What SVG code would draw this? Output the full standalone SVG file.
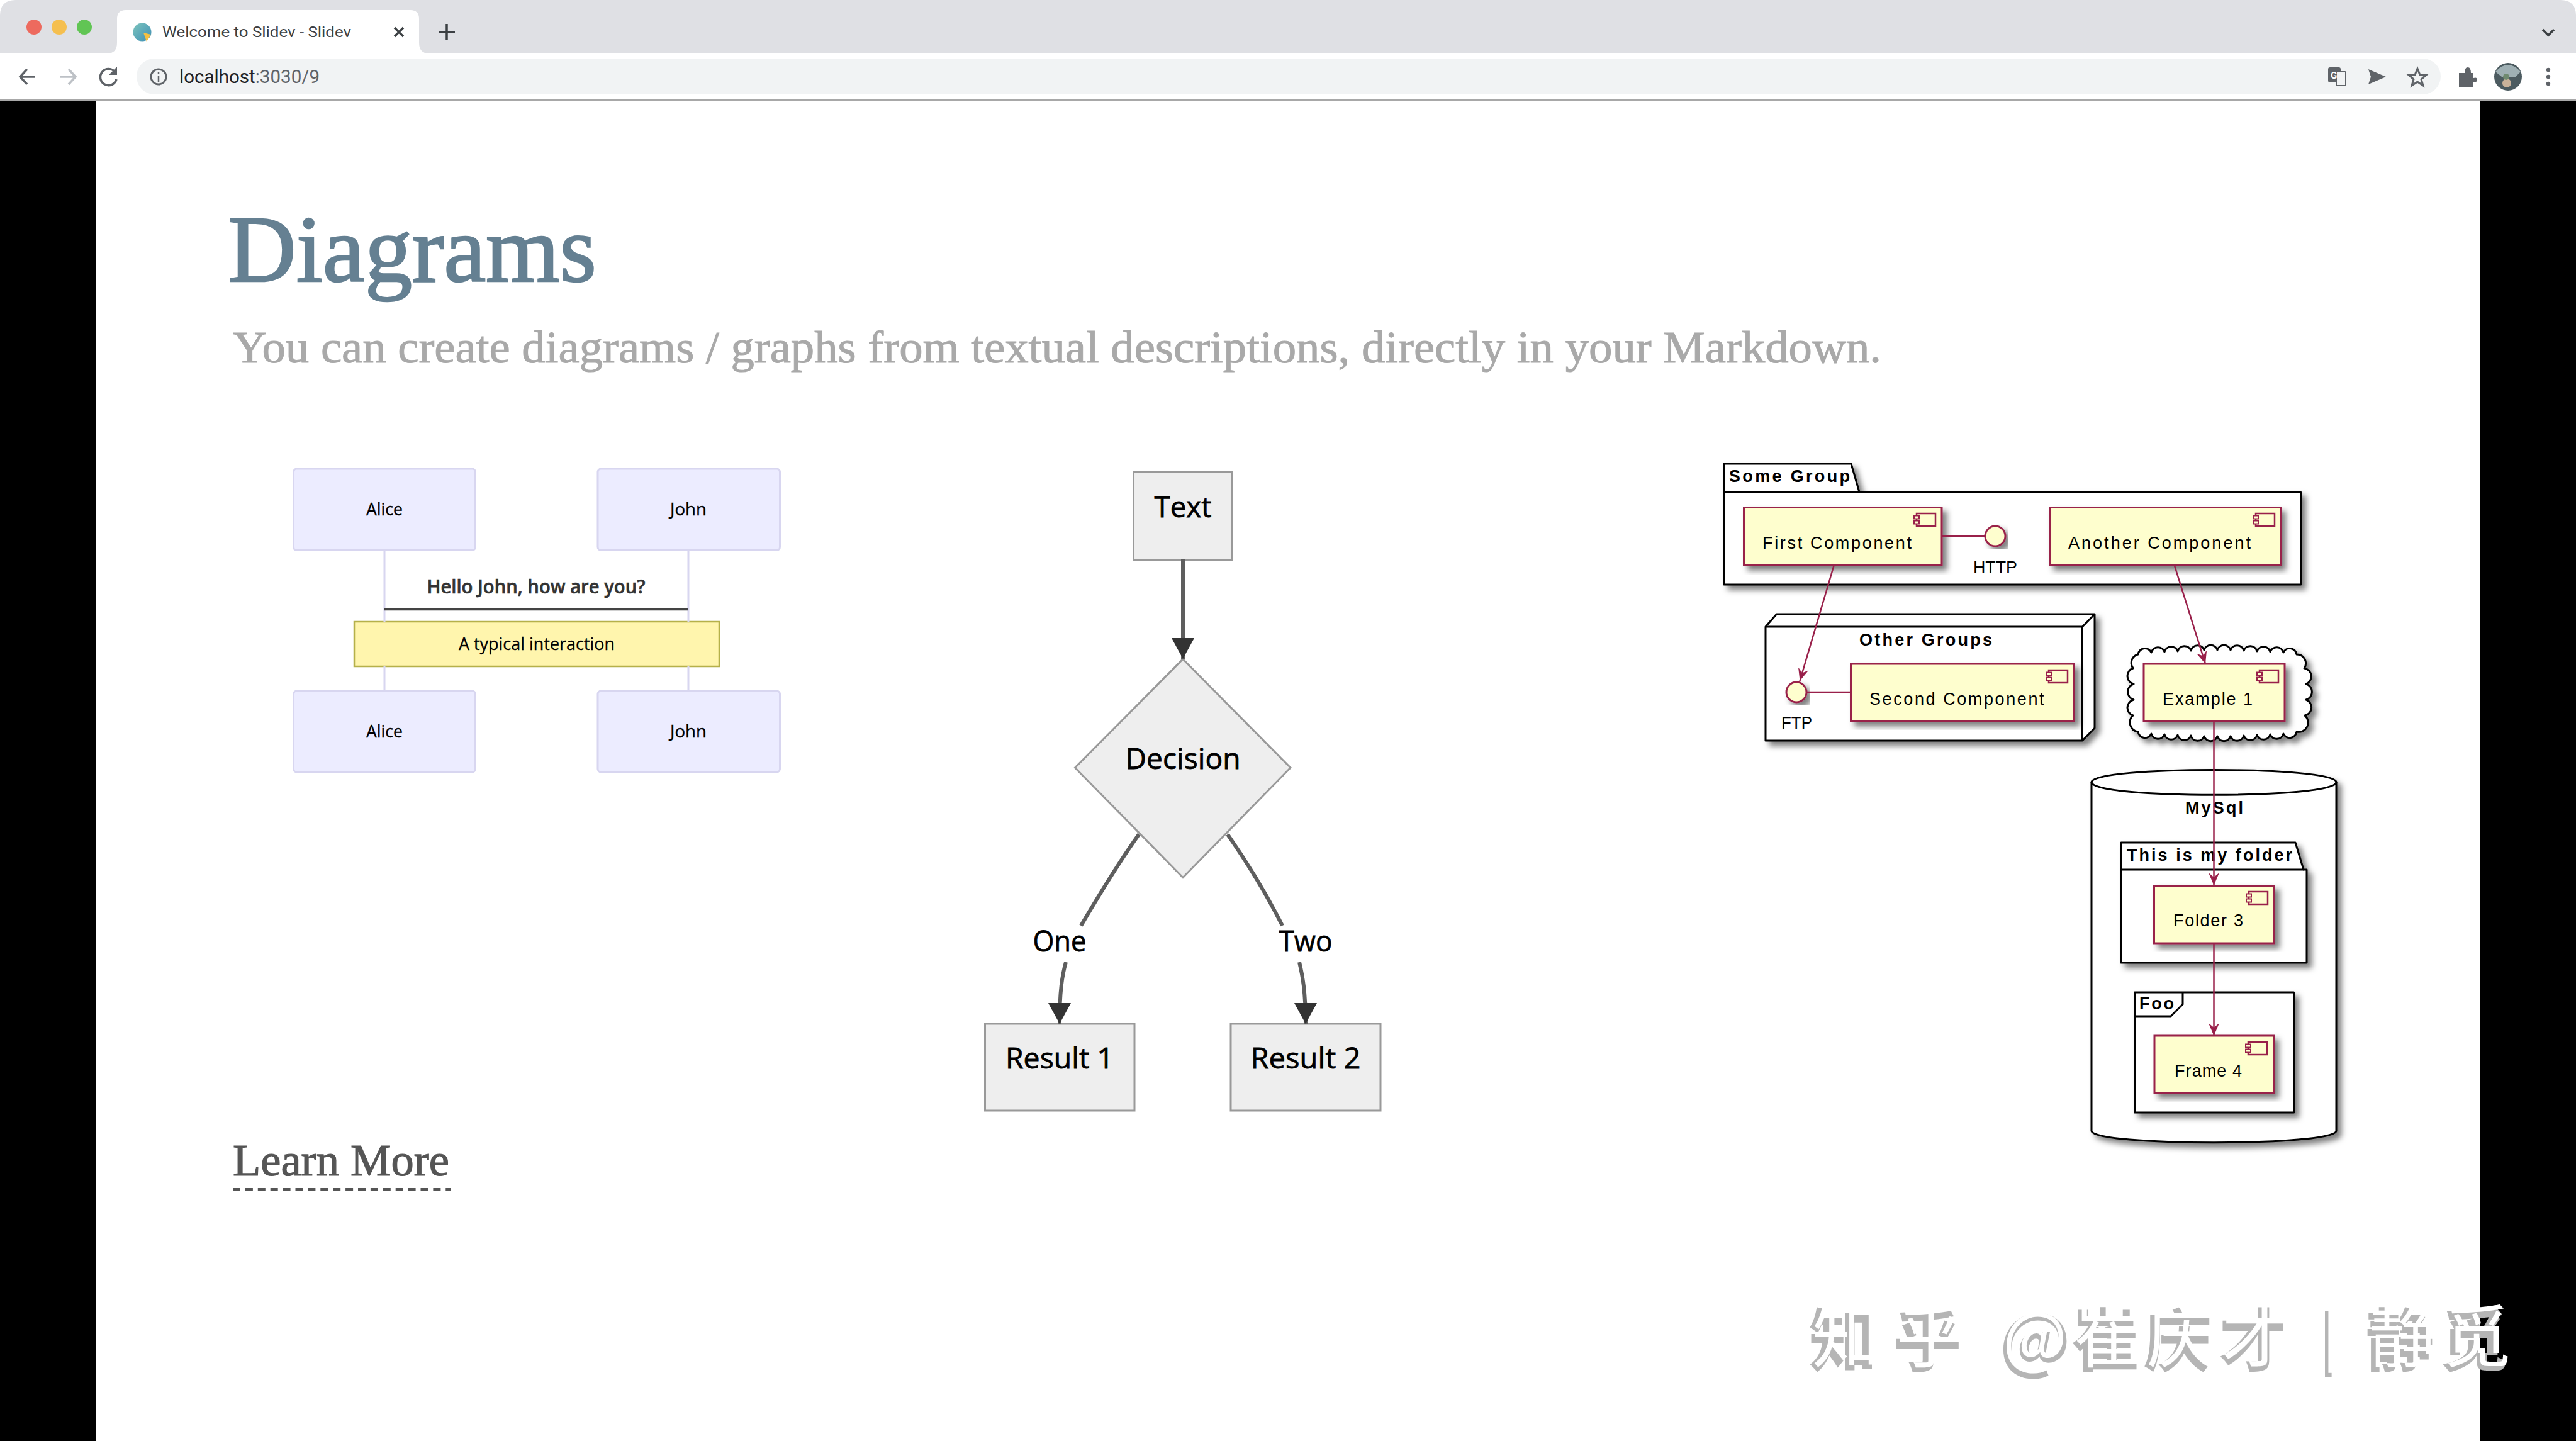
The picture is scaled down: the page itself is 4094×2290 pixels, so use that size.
<svg xmlns="http://www.w3.org/2000/svg" width="4094" height="2290" viewBox="0 0 4094 2290">
<style>
.seq{fill:#ececff;stroke:#d8d6f0;stroke-width:3}
.st{font-family:"Open Sans","Liberation Sans",sans-serif;font-size:27px;fill:#000;text-anchor:middle;stroke:#000;stroke-width:.3}
.fb{fill:#eee;stroke:#999;stroke-width:3}
.ft{font-family:"Open Sans","Liberation Sans",sans-serif;font-size:46px;fill:#000;text-anchor:middle;stroke:#000;stroke-width:.8}
.pk{fill:#fff;stroke:#000;stroke-width:3;stroke-linejoin:round}
.pk2{fill:none;stroke:#000;stroke-width:3}
.cp{fill:#fefece;stroke:#99204a;stroke-width:3}
.ct{font-family:"Liberation Sans",Arial,sans-serif;font-size:27px;fill:#000}
.gt{font-family:"Liberation Sans",Arial,sans-serif;font-size:27px;font-weight:bold;fill:#000}
.e{fill:none;stroke:#99204a;stroke-width:2.5}
.fe{fill:none;stroke:#5e5e5e;stroke-width:6}
.ll{fill:none;stroke:#d8d6f0;stroke-width:3}
.ic{fill:none;stroke:#5f6368;stroke-width:3.5}
.wm{font-family:"Noto Sans CJK SC","Liberation Sans",sans-serif;font-size:108px}
</style>
<defs>
<filter id="sh" x="-10%" y="-10%" width="125%" height="125%"><feDropShadow dx="7" dy="7" stdDeviation="5" flood-color="#000" flood-opacity="0.5"/></filter>
<linearGradient id="fav" x1="0" y1="0" x2="1" y2="1"><stop offset="0" stop-color="#7cc4bd"/><stop offset="1" stop-color="#3f8fb5"/></linearGradient>
<g id="ci"><rect x="4" y="0" width="30" height="20" fill="#fefece" stroke="#99204a" stroke-width="2.5"/><rect x="0" y="3.5" width="8" height="5" fill="#fefece" stroke="#99204a" stroke-width="2"/><rect x="0" y="11.5" width="8" height="5" fill="#fefece" stroke="#99204a" stroke-width="2"/></g>
<marker id="oa" markerUnits="userSpaceOnUse" markerWidth="24" markerHeight="24" refX="20" refY="10" orient="auto" viewBox="0 0 24 20"><path d="M20,10 L0,1.5 L7,10 L0,18.5 Z" fill="#99204a"/></marker>
<marker id="fa" markerUnits="userSpaceOnUse" markerWidth="36" markerHeight="36" refX="33" refY="18" orient="auto" viewBox="0 0 36 36"><path d="M33,18 L0,0 L0,36 Z" fill="#333"/></marker>
</defs>

<rect width="4094" height="2290" fill="#fff"/>
<rect x="0" y="160" width="153" height="2130" fill="#000"/>
<rect x="3942" y="160" width="152" height="2130" fill="#000"/>

<g id="browser-chrome">
<path d="M0,90 V25 Q0,0 25,0 H4069 Q4094,0 4094,25 V90 Z" fill="#dfe0e4"/>
<rect x="0" y="85" width="4094" height="73" fill="#fff"/>
<rect x="0" y="158" width="4094" height="2.5" fill="#a8a8a8"/>
<circle cx="54" cy="43" r="12" fill="#ed6a5e"/><circle cx="94" cy="43" r="12" fill="#f5bf4f"/><circle cx="134" cy="43" r="12" fill="#61c554"/>
<path d="M170,85 Q186,85 186,68 V30 Q186,16 200,16 H652 Q666,16 666,30 V68 Q666,85 682,85 Z" fill="#fff"/>
<circle cx="226" cy="51" r="14.5" fill="url(#fav)"/><path d="M228,52 L240,55 L233,66 Z" fill="#f4c042"/>
<text x="258" y="59" font-family="Roboto,'Liberation Sans',sans-serif" font-size="23" fill="#3c4043" textLength="300" lengthAdjust="spacingAndGlyphs">Welcome to Slidev - Slidev</text>
<path d="M627,44 L641,58 M641,44 L627,58" class="ic" style="stroke:#3c4043"/>
<path d="M710,38 V64 M697,51 H723" class="ic" style="stroke:#3c4043"/>
<path d="M4041,47 L4050,56 L4059,47" class="ic" style="stroke:#3c4043"/>
<rect x="217" y="93" width="3662" height="57" rx="28.5" fill="#f1f3f4"/>
<path d="M55,122 H33 M43,110 L32,122 L43,134" class="ic"/>
<path d="M120,122 H96 M109,110 L120,122 L109,134" class="ic" style="stroke:#bdc1c6"/>
<path d="M183,115 A13,13 0 1 0 185,126" class="ic"/><path d="M186,106 V119 H173 Z" fill="#5f6368"/>
<circle cx="252" cy="122" r="12" class="ic" style="stroke-width:3"/><path d="M252,120 V130 M252,114 V117" class="ic" style="stroke-width:2.5"/>
<text x="285" y="132" font-family="Roboto,'Liberation Sans',sans-serif" font-size="29" fill="#202124" textLength="223" lengthAdjust="spacingAndGlyphs">localhost<tspan fill="#5f6368">:3030/9</tspan></text>
<rect x="3700" y="107" width="20" height="24" rx="3" fill="#5f6368"/><rect x="3713" y="114" width="15" height="22" rx="1" fill="#f1f3f4" stroke="#5f6368" stroke-width="2"/>
<text x="3704" y="125" font-family="Roboto,sans-serif" font-size="15" font-weight="bold" fill="#fff">G</text>
<path d="M3764,110 L3792,122 L3764,134 L3768,122 Z" fill="#5f6368"/>
<path d="M3842,109 L3846,119 L3856,119 L3848,126 L3851,136 L3842,130 L3833,136 L3836,126 L3828,119 L3838,119 Z" class="ic" style="stroke-width:3"/>
<path d="M3908,116 H3917 Q3917,107 3922,107 Q3927,107 3927,116 H3931 V124 Q3937,122 3937,127 Q3937,131 3931,130 V138 H3908 Z" fill="#5f6368"/>
<circle cx="3986" cy="122" r="22" fill="#4c5b60"/><path d="M3966,114 Q3986,92 4006,114 L3998,122 L3976,122 Z" fill="#9fb0b4"/><circle cx="3984" cy="132" r="7" fill="#c9b29a"/><circle cx="3983" cy="122" r="5" fill="#6f8a70"/>
<circle cx="4050" cy="111" r="3.2" fill="#5f6368"/><circle cx="4050" cy="122" r="3.2" fill="#5f6368"/><circle cx="4050" cy="133" r="3.2" fill="#5f6368"/>
</g>

<g id="header">
<text x="362" y="447" font-family="'Liberation Serif',serif" font-size="150" fill="#658092" stroke="#658092" stroke-width="2.5" textLength="586" lengthAdjust="spacingAndGlyphs">Diagrams</text>
<text x="370" y="576" font-family="'Liberation Serif',serif" font-size="72" fill="#a9a9a9" stroke="#a9a9a9" stroke-width="1" textLength="2620" lengthAdjust="spacingAndGlyphs">You can create diagrams / graphs from textual descriptions, directly in your Markdown.</text>
</g>

<g id="alice-top"><rect class="seq" x="466.5" y="745" width="289" height="129.5" rx="5"/><text class="st" x="611" y="819" textLength="58" lengthAdjust="spacingAndGlyphs">Alice</text></g>
<g id="john-top"><rect class="seq" x="950" y="745" width="289.5" height="129.5" rx="5"/><text class="st" x="1094" y="819" textLength="58" lengthAdjust="spacingAndGlyphs">John</text></g>
<g id="alice-bottom"><rect class="seq" x="466.5" y="1098" width="289" height="129" rx="5"/><text class="st" x="611" y="1172" textLength="58" lengthAdjust="spacingAndGlyphs">Alice</text></g>
<g id="john-bottom"><rect class="seq" x="950" y="1098" width="289.5" height="129" rx="5"/><text class="st" x="1094" y="1172" textLength="58" lengthAdjust="spacingAndGlyphs">John</text></g>
<g id="note"><rect x="563" y="988" width="580" height="71" fill="#fff5ad" stroke="#b5b04a" stroke-width="2.5"/><text class="st" x="853" y="1033" textLength="248" lengthAdjust="spacingAndGlyphs">A typical interaction</text></g>
<g id="message-label"><text class="st" x="852" y="943" style="fill:#333;stroke:#333;stroke-width:.6;font-size:31px;font-weight:600" textLength="347" lengthAdjust="spacingAndGlyphs">Hello John, how are you?</text></g>

<g id="flow-text"><rect class="fb" x="1801.5" y="750.5" width="156.5" height="139"/><text class="ft" x="1880" y="822" textLength="91" lengthAdjust="spacingAndGlyphs">Text</text></g>
<g id="flow-decision"><path class="fb" d="M1880,1047.5 L2051,1220 L1880,1394.5 L1708.5,1220 Z"/><text class="ft" x="1880" y="1222" textLength="183" lengthAdjust="spacingAndGlyphs">Decision</text></g>
<g id="flow-result1"><rect class="fb" x="1565.5" y="1627" width="237.5" height="138"/><text class="ft" x="1684" y="1698" textLength="172" lengthAdjust="spacingAndGlyphs">Result 1</text></g>
<g id="flow-result2"><rect class="fb" x="1956" y="1627" width="238" height="138"/><text class="ft" x="2075" y="1698" textLength="175" lengthAdjust="spacingAndGlyphs">Result 2</text></g>
<g id="flow-label-one"><text class="ft" x="1684" y="1512" textLength="85" lengthAdjust="spacingAndGlyphs">One</text></g>
<g id="flow-label-two"><text class="ft" x="2075" y="1512" textLength="85" lengthAdjust="spacingAndGlyphs">Two</text></g>

<g id="some-group"><path class="pk" filter="url(#sh)" d="M2740,782 V737 H2942 L2955,782 H3656.5 V929 H2740 Z"/><path class="pk2" d="M2740,782 H2955"/><text class="gt" x="2748" y="766" textLength="192" lengthAdjust="spacing">Some Group</text></g>
<g id="first-component"><rect class="cp" filter="url(#sh)" x="2771.5" y="806.5" width="314.5" height="92"/><use href="#ci" x="3042" y="816"/><text class="ct" x="2801" y="872" textLength="237" lengthAdjust="spacing">First Component</text></g>
<g id="http"><circle class="cp" filter="url(#sh)" cx="3171" cy="852" r="16"/><text class="ct" x="3136" y="911" textLength="70" lengthAdjust="spacingAndGlyphs">HTTP</text></g>
<g id="another-component"><rect class="cp" filter="url(#sh)" x="3257.5" y="806.5" width="367" height="92"/><use href="#ci" x="3581" y="816"/><text class="ct" x="3287" y="872" textLength="290" lengthAdjust="spacing">Another Component</text></g>

<g id="other-groups"><path class="pk" filter="url(#sh)" d="M2806,996 L2823.5,976 H3329 V1157 L3309.5,1177 H2806 Z"/><path class="pk2" d="M2806,996 H3309.5 V1177 M3309.5,996 L3329,976"/><text class="gt" x="2955" y="1026" textLength="211" lengthAdjust="spacing">Other Groups</text></g>
<g id="ftp"><circle class="cp" filter="url(#sh)" cx="2855" cy="1100" r="16"/><text class="ct" x="2831" y="1158" textLength="49" lengthAdjust="spacingAndGlyphs">FTP</text></g>
<g id="second-component"><rect class="cp" filter="url(#sh)" x="2941.5" y="1055" width="355" height="91"/><use href="#ci" x="3252" y="1065"/><text class="ct" x="2971" y="1120" textLength="277.5" lengthAdjust="spacing">Second Component</text></g>

<g id="cloud"><path class="pk" filter="url(#sh)" d="M3398,1040 A11,11 0 0 1 3419,1037 A11,11 0 0 1 3440,1036 A11,11 0 0 1 3461,1035 A11,11 0 0 1 3482,1034 A11,11 0 0 1 3503,1033 A11,11 0 0 1 3524,1033 A11,11 0 0 1 3545,1033 A11,11 0 0 1 3566,1034 A11,11 0 0 1 3587,1035 A11,11 0 0 1 3608,1036 A11,11 0 0 1 3629,1037 A11,11 0 0 1 3650,1040 A14,14 0 0 1 3662,1062 A13,13 0 0 1 3665,1087 A13,13 0 0 1 3665,1112 A13,13 0 0 1 3663,1137 A15,15 0 0 1 3650,1163 A11,11 0 0 1 3629,1166 A11,11 0 0 1 3608,1167 A11,11 0 0 1 3587,1168 A11,11 0 0 1 3566,1169 A11,11 0 0 1 3545,1170 A11,11 0 0 1 3524,1170 A11,11 0 0 1 3503,1170 A11,11 0 0 1 3482,1169 A11,11 0 0 1 3461,1168 A11,11 0 0 1 3440,1167 A11,11 0 0 1 3419,1166 A11,11 0 0 1 3398,1163 A15,15 0 0 1 3390,1137 A13,13 0 0 1 3391,1112 A13,13 0 0 1 3391,1087 A13,13 0 0 1 3390,1062 A14,14 0 0 1 3398,1040 Z"/></g>
<g id="example-1"><rect class="cp" filter="url(#sh)" x="3407" y="1055" width="224" height="91"/><use href="#ci" x="3587" y="1065"/><text class="ct" x="3437" y="1120" textLength="143" lengthAdjust="spacing">Example 1</text></g>

<g id="mysql"><path class="pk" filter="url(#sh)" d="M3324,1243 C3324,1217 3713,1217 3713,1243 V1797 C3713,1822 3324,1822 3324,1797 Z"/><path class="pk2" d="M3324,1243 C3324,1270 3713,1270 3713,1243"/><text class="gt" x="3473" y="1293" textLength="92" lengthAdjust="spacing">MySql</text></g>
<g id="folder"><path class="pk" filter="url(#sh)" d="M3371,1382 V1339 H3648 L3661,1382 H3666 V1530 H3371 Z"/><path class="pk2" d="M3371,1382 H3661"/><text class="gt" x="3380" y="1368" textLength="263" lengthAdjust="spacing">This is my folder</text></g>
<g id="folder-3"><rect class="cp" filter="url(#sh)" x="3423.5" y="1407.5" width="191" height="91.5"/><use href="#ci" x="3570" y="1417"/><text class="ct" x="3454" y="1472" textLength="111" lengthAdjust="spacing">Folder 3</text></g>
<g id="foo"><path class="pk" filter="url(#sh)" d="M3392.5,1577 H3645.5 V1768 H3392.5 Z"/><path class="pk2" d="M3392.5,1615 H3450 L3469,1596 V1577"/><text class="gt" x="3400" y="1604" textLength="55" lengthAdjust="spacing">Foo</text></g>
<g id="frame-4"><rect class="cp" filter="url(#sh)" x="3424" y="1646" width="189.5" height="91"/><use href="#ci" x="3569" y="1656"/><text class="ct" x="3456" y="1711" textLength="107" lengthAdjust="spacing">Frame 4</text></g>

<g id="watermark">
<text class="wm" fill="#b5b5b5" font-weight="900" y="2170" x="2875 3009 3130 3178 3292 3407 3526 3650 3686 3730 3760 3878">知乎 @崔庆才 <tspan font-size="92" dy="-8">|</tspan><tspan dy="8"> </tspan>静觅</text>
<text class="wm" fill="#fff" font-weight="400" y="2164" x="2880 3014 3135 3183 3297 3412 3531 3655 3691 3735 3765 3883">知乎 @崔庆才 <tspan font-size="92" dy="-8">|</tspan><tspan dy="8"> </tspan>静觅</text>
</g>

<g id="learn-more"><text x="370" y="1868" font-family="'Liberation Serif',serif" font-size="72" fill="#555" stroke="#555" stroke-width="1.2" textLength="344" lengthAdjust="spacingAndGlyphs">Learn More</text><path d="M370,1890 H717" stroke="#555" stroke-width="4" stroke-dasharray="12 7.9" fill="none"/></g>

<g id="connectors">
<path class="ll" d="M611,874.5 V988 M611,1059 V1098 M1094,874.5 V988 M1094,1059 V1098"/>
<path d="M611,968.5 H1094" fill="none" stroke="#444" stroke-width="3.5"/>
<path class="fe" d="M1880,889 V1047" marker-end="url(#fa)"/>
<path class="fe" d="M1810,1326 C1775,1375 1745,1425 1718,1471"/>
<path class="fe" d="M1694,1529 C1688,1550 1684,1575 1684,1627" marker-end="url(#fa)"/>
<path class="fe" d="M1951,1326 C1985,1375 2015,1425 2038,1471"/>
<path class="fe" d="M2065,1529 C2070,1550 2075,1575 2075,1627" marker-end="url(#fa)"/>
<path class="e" d="M3087,852 H3155"/>
<path class="e" d="M2871,1100 H2941"/>
<path class="e" d="M2914.5,899 L2860.5,1082" marker-end="url(#oa)"/>
<path class="e" d="M3456,899 L3505,1055" marker-end="url(#oa)"/>
<path class="e" d="M3518.5,1146 V1407" marker-end="url(#oa)"/>
<path class="e" d="M3518.5,1499 V1646" marker-end="url(#oa)"/>
</g>
</svg>
